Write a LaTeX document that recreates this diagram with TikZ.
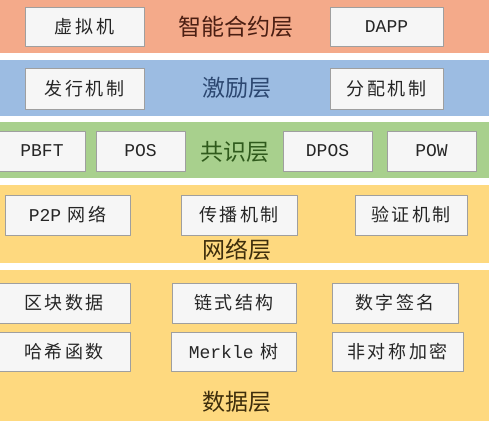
\documentclass[tikz,border=0pt]{standalone}
\usepackage{fontspec}
\setmainfont{Noto Sans CJK SC}
\newfontfamily\boxlatin{Liberation Mono}
\usetikzlibrary{positioning}

\definecolor{contractband}{HTML}{F4AA8A}
\definecolor{rewardband}{HTML}{9CBCE2}
\definecolor{consensusband}{HTML}{A8D08D}
\definecolor{netband}{HTML}{FED97F}
\definecolor{contracttext}{HTML}{4A1E12}
\definecolor{rewardtext}{HTML}{2C4770}
\definecolor{consensustext}{HTML}{2F5A1C}
\definecolor{nettext}{HTML}{3E2E0C}

\tikzset{
    layerbox/.style={draw=gray!75, fill=gray!7, line width=0.8pt, text=black!85,
        inner sep=0pt, font=\fontsize{18}{18}\selectfont\addfontfeatures{LetterSpace=14}},
    layertitle/.style={inner sep=0pt, font=\fontsize{23}{23}\selectfont}
}

\begin{document}
\begin{tikzpicture}[x=1pt, y=-1pt, line cap=round, line join=round]
    \useasboundingbox (0,0) rectangle (489,421);

    % Bands
    \fill[contractband] (0,0) rectangle (489,53);
    \fill[rewardband] (0,60) rectangle (489,116);
    \fill[consensusband] (0,122) rectangle (489,178);
    \fill[netband] (0,185) rectangle (489,263);
    \fill[netband] (0,270) rectangle (489,421);

    % Smart contract layer
    \node[layerbox, minimum width=119pt, minimum height=39pt] (vm) at (84.5,26.5) {虚拟机};
    \node[layerbox, minimum width=113pt, minimum height=39pt] (dapp) at (386.5,26.5) {\boxlatin DAPP};
    \node[layertitle, text=contracttext] (contractT) at (236,27) {智能合约层};

    % Incentive layer
    \node[layerbox, minimum width=119pt, minimum height=41pt] (issue) at (84.5,88.5) {发行机制};
    \node[layerbox, minimum width=113pt, minimum height=41pt] (alloc) at (386.5,88.5) {分配机制};
    \node[layertitle, text=rewardtext] (rewardT) at (237,88) {激励层};

    % Consensus layer
    \node[layerbox, minimum width=86pt, minimum height=40pt] (pbft) at (42,151) {\boxlatin PBFT};
    \node[layerbox, minimum width=89pt, minimum height=40pt] (pos) at (140.5,151) {\boxlatin POS};
    \node[layertitle, text=consensustext] (consensusT) at (235,152) {共识层};
    \node[layerbox, minimum width=89pt, minimum height=40pt] (dpos) at (327.5,151) {\boxlatin DPOS};
    \node[layerbox, minimum width=89pt, minimum height=40pt] (pow) at (431.5,151) {\boxlatin POW};

    % Network layer
    \node[layerbox, minimum width=125pt, minimum height=40pt] (ptp) at (67.5,215) {{\boxlatin P2P} 网络};
    \node[layerbox, minimum width=116pt, minimum height=40pt] (spread) at (239,215) {传播机制};
    \node[layerbox, minimum width=112pt, minimum height=40pt] (verify) at (411,215) {验证机制};
    \node[layertitle, text=nettext] (netT) at (237,250) {网络层};

    % Data layer
    \node[layerbox, minimum width=132pt, minimum height=40pt] (block) at (64,303) {区块数据};
    \node[layerbox, minimum width=124pt, minimum height=40pt] (chain) at (234,303) {链式结构};
    \node[layerbox, minimum width=126pt, minimum height=40pt] (sign) at (395,303) {数字签名};
    \node[layerbox, minimum width=132pt, minimum height=39pt] (hash) at (64,351.5) {哈希函数};
    \node[layerbox, minimum width=125pt, minimum height=39pt] (merkle) at (233.5,351.5) {{\boxlatin Merkle} 树};
    \node[layerbox, minimum width=131pt, minimum height=39pt] (asym) at (397.5,351.5) {非对称加密};
    \node[layertitle, text=nettext] (dataT) at (237,402) {数据层};
\end{tikzpicture}
\end{document}
